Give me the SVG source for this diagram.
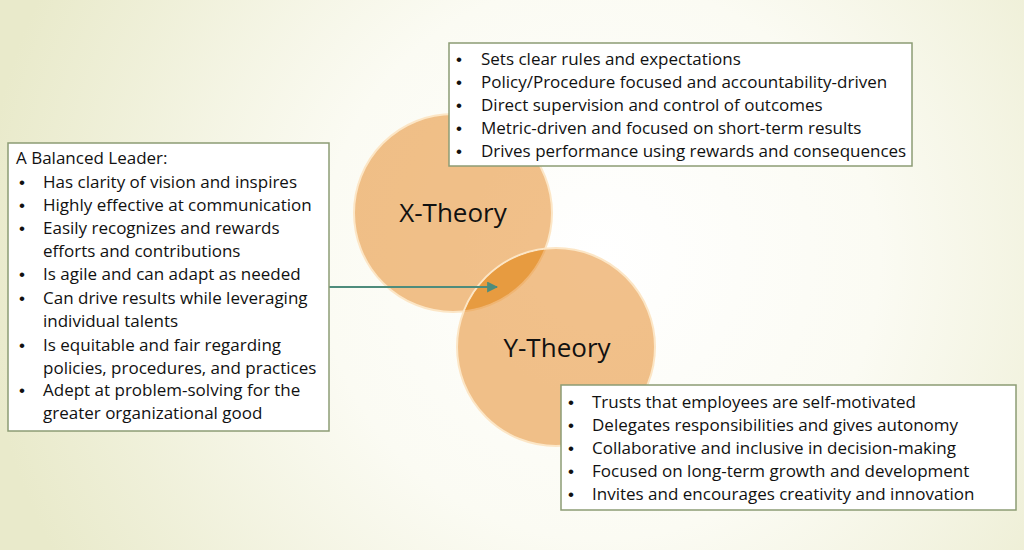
<svg xmlns="http://www.w3.org/2000/svg" width="1024" height="550" viewBox="0 0 1024 550">
<defs>
<radialGradient id="bg" cx="600" cy="260" r="620" gradientUnits="userSpaceOnUse">
<stop offset="0" stop-color="#FFFFFF"/>
<stop offset="0.45" stop-color="#FBFBF3"/>
<stop offset="1" stop-color="#E9EACB"/>
</radialGradient>
<clipPath id="xclip"><circle cx="453" cy="213" r="98"/></clipPath>
<marker id="ah" viewBox="0 0 10 10" refX="9" refY="5" markerWidth="5" markerHeight="5" orient="auto">
<path d="M0,0 L10,5 L0,10 z" fill="#4E8C7C"/>
</marker>
</defs>
<style>
.box{fill:#FFFFFF;stroke:#8C9C74;stroke-width:1.5}
.t{font-family:"Open Sans","Liberation Sans",Arial,sans-serif;font-size:17px;fill:#111111}
.b{font-family:"Liberation Sans",Arial,sans-serif;font-size:17px;fill:#111111}
.c{fill:#E68E30;fill-opacity:0.56;stroke:#FCE6C6;stroke-width:2}
.lbl{font-family:"Open Sans","Liberation Sans",Arial,sans-serif;font-size:26px;fill:#111111;text-anchor:middle}
</style>
<rect width="1024" height="550" fill="url(#bg)"/>
<g id="x-theory">
<circle class="c" cx="453" cy="213" r="99"/>
<text class="lbl" x="453" y="222">X-Theory</text>
</g>
<g id="y-theory">
<circle class="c" cx="556" cy="347" r="99"/>
<circle cx="556" cy="347" r="98" fill="#E79A3E" fill-opacity="0.9" clip-path="url(#xclip)"/>
<text class="lbl" x="557" y="357">Y-Theory</text>
</g>
<g id="connectors">
<line x1="329" y1="287" x2="497" y2="287" stroke="#4E8C7C" stroke-width="2.2" marker-end="url(#ah)"/>
</g>
<g id="balanced-leader">
<rect class="box" x="8" y="143" width="321" height="288"/>
<text class="t" x="16" y="164">A Balanced Leader:</text>
<text class="b" x="19" y="188">•</text><text class="t" x="43" y="188">Has clarity of vision and inspires</text>
<text class="b" x="19" y="211">•</text><text class="t" x="43" y="211">Highly effective at communication</text>
<text class="b" x="19" y="234">•</text><text class="t" x="43" y="234">Easily recognizes and rewards</text>
<text class="t" x="43" y="257">efforts and contributions</text>
<text class="b" x="19" y="280">•</text><text class="t" x="43" y="280">Is agile and can adapt as needed</text>
<text class="b" x="19" y="304">•</text><text class="t" x="43" y="304">Can drive results while leveraging</text>
<text class="t" x="43" y="327">individual talents</text>
<text class="b" x="19" y="351">•</text><text class="t" x="43" y="351">Is equitable and fair regarding</text>
<text class="t" x="43" y="374">policies, procedures, and practices</text>
<text class="b" x="19" y="396">•</text><text class="t" x="43" y="396">Adept at problem-solving for the</text>
<text class="t" x="43" y="419">greater organizational good</text>
</g>
<g id="x-traits">
<rect class="box" x="449" y="43" width="463" height="123"/>
<text class="b" x="456" y="65">•</text><text class="t" x="481" y="65">Sets clear rules and expectations</text>
<text class="b" x="456" y="88">•</text><text class="t" x="481" y="88">Policy/Procedure focused and accountability-driven</text>
<text class="b" x="456" y="111">•</text><text class="t" x="481" y="111">Direct supervision and control of outcomes</text>
<text class="b" x="456" y="134">•</text><text class="t" x="481" y="134">Metric-driven and focused on short-term results</text>
<text class="b" x="456" y="157">•</text><text class="t" x="481" y="157">Drives performance using rewards and consequences</text>
</g>
<g id="y-traits">
<rect class="box" x="561" y="385" width="455" height="125"/>
<text class="b" x="568" y="408">•</text><text class="t" x="592" y="408">Trusts that employees are self-motivated</text>
<text class="b" x="568" y="431">•</text><text class="t" x="592" y="431">Delegates responsibilities and gives autonomy</text>
<text class="b" x="568" y="454">•</text><text class="t" x="592" y="454">Collaborative and inclusive in decision-making</text>
<text class="b" x="568" y="477">•</text><text class="t" x="592" y="477">Focused on long-term growth and development</text>
<text class="b" x="568" y="500">•</text><text class="t" x="592" y="500">Invites and encourages creativity and innovation</text>
</g>
</svg>
